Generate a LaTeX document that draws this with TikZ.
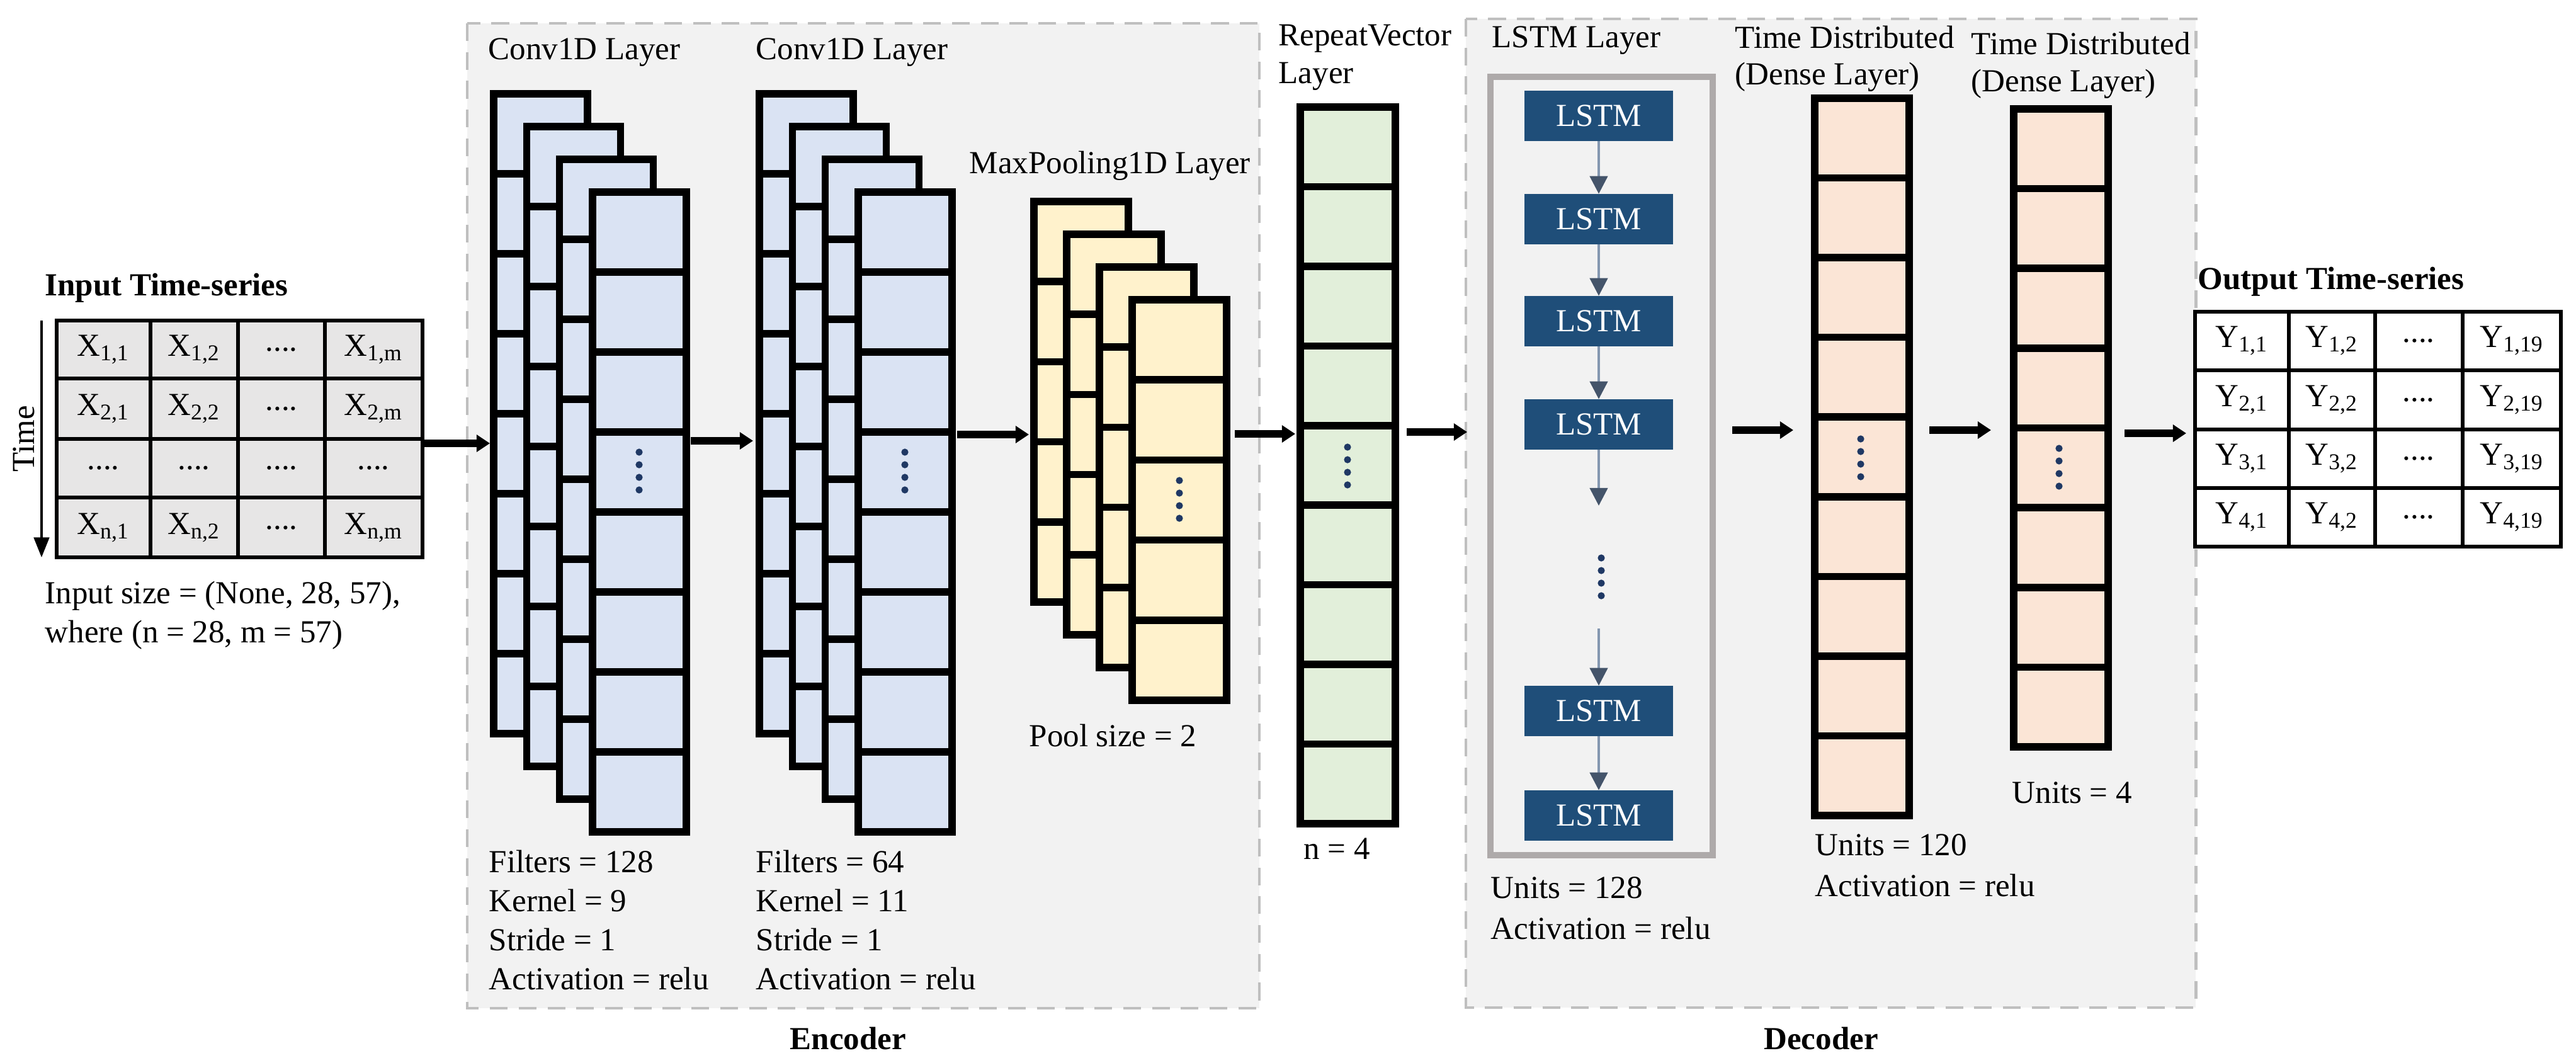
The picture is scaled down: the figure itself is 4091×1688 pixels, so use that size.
\documentclass[tikz,border=0pt]{standalone}
\usepackage{fontspec}
\setmainfont{Liberation Serif}
\usetikzlibrary{arrows.meta}
\definecolor{boxbg}{HTML}{F2F2F2}
\definecolor{boxdash}{HTML}{BFBFBF}
\definecolor{convc}{HTML}{DAE3F3}
\definecolor{poolc}{HTML}{FFF2CC}
\definecolor{rvc}{HTML}{E2EFDA}
\definecolor{densec}{HTML}{FBE5D6}
\definecolor{lstmc}{HTML}{1F4E79}
\definecolor{tabc}{HTML}{E7E6E6}
\definecolor{dotc}{HTML}{1F3864}
\definecolor{framec}{HTML}{AEAAAA}
\definecolor{larrow}{HTML}{8497B0}
\definecolor{ltip}{HTML}{44546A}
\newcommand\cellcol[7]{% x y w h n n-1 fill
  \pgfmathsetmacro\cx{#1}\pgfmathsetmacro\cy{#2}%
  \filldraw[fill=#7,line width=3.3pt] (\cx,\cy) rectangle ++(#3,#4);
  \foreach \ci in {1,...,#6}{\draw[line width=3.3pt] (\cx,{\cy+\ci*#4/#5}) -- ++(#3,0);}}
\newcommand\fourdots[2]{\foreach \j in {-30,-10,10,30}{\fill[dotc] (#1,{#2+\j}) circle (1.6pt);}}
\newcommand\dts{....}
\begin{document}
\begin{tikzpicture}[x=0.01cm,y=-0.01cm,
  every node/.style={font=\fontsize{14.5}{17}\selectfont,inner sep=0pt},
  lbl/.style={anchor=west},
  bold/.style={font=\fontsize{14.5}{17}\selectfont\bfseries},
  big/.style={line width=3.6pt,-{Triangle[length=6pt,width=7.5pt]}},
  small/.style={line width=1.2pt,draw=larrow,-{Triangle[length=8pt,width=8pt,fill=ltip,color=ltip]}},
  lstm/.style={fill=lstmc,text=white,minimum width=2.36cm,minimum height=0.79cm},
  region/.style={fill=boxbg,draw=boxdash,line width=1.4pt,dash pattern=on 8pt off 5pt}]
\useasboundingbox (0,0) rectangle (4091,1688);
% regions
\draw[region] (742,37) rectangle (2000,1601);
\draw[region] (2328,30) rectangle (3487,1600);
\node[bold] (enc) at (1347,1649) {Encoder};
\node[bold] (dec) at (2892,1649) {Decoder};
% input table
\node[bold,lbl] (intitle) at (71,457) {Input Time-series};
\filldraw[fill=tabc,line width=1.5pt] (90,509) rectangle (671,885);
\foreach \xx in {239,378,516}{\draw[line width=1.5pt] (\xx,509) -- (\xx,885);}
\foreach \yy in {601,697,790}{\draw[line width=1.5pt] (90,\yy) -- (671,\yy);}
\foreach \yy/\va/\vb/\vc/\vd in {555/X\textsubscript{1,1}/X\textsubscript{1,2}/\dts/X\textsubscript{1,m},
  649/X\textsubscript{2,1}/X\textsubscript{2,2}/\dts/X\textsubscript{2,m},
  743/\dts/\dts/\dts/\dts,
  838/X\textsubscript{n,1}/X\textsubscript{n,2}/\dts/X\textsubscript{n,m}}{
  \node at (164,\yy) {\va}; \node at (308,\yy) {\vb}; \node at (447,\yy) {\vc}; \node at (593,\yy) {\vd};}
\coordinate (t0) at (66,509); \coordinate (t1) at (66,885);
\draw[line width=0.9pt,-{Triangle[length=9pt,width=7pt]}] (t0) -- (t1);
\node[rotate=90] (time) at (38,697) {Time};
\node[lbl] (insz1) at (71,946) {Input size = (None, 28, 57),};
\node[lbl] (insz2) at (71,1008) {where (n = 28, m = 57)};
% conv1
\node[lbl] (c1t) at (775,83) {Conv1D Layer};
\foreach \kk in {0,1,2,3}{\cellcol{784+52.3*\kk}{149+52*\kk}{149}{1016}{8}{7}{convc}}
\fourdots{1015}{748}
\foreach \t/\yy in {Filters = 128/1368,Kernel = 9/1430,Stride = 1/1492,Activation = relu/1554}{\node[lbl] at (776,\yy) {\t};}
% conv2
\node[lbl] (c2t) at (1200,83) {Conv1D Layer};
\foreach \kk in {0,1,2,3}{\cellcol{1206+52.3*\kk}{149+52*\kk}{149}{1016}{8}{7}{convc}}
\fourdots{1437}{748}
\foreach \t/\yy in {Filters = 64/1368,Kernel = 11/1430,Stride = 1/1492,Activation = relu/1554}{\node[lbl] at (1200,\yy) {\t};}
% maxpool
\node[lbl] (mpt) at (1539,263) {MaxPooling1D Layer};
\foreach \kk in {0,1,2,3}{\cellcol{1642+52*\kk}{320+52*\kk}{150}{636}{5}{4}{poolc}}
\fourdots{1873}{793}
\node[lbl] (mps) at (1634,1168) {Pool size = 2};
% repeat vector
\node[lbl] (rv1) at (2030,61) {RepeatVector};
\node[lbl] (rv2) at (2030,121) {Layer};
\cellcol{2065}{170}{151}{1138}{9}{8}{rvc}
\fourdots{2140}{740}
\node[lbl] (rvn) at (2070,1348) {n = 4};
% LSTM
\node[lbl] (lt) at (2369,64) {LSTM Layer};
\draw[framec,line width=2.6pt] (2367,122) rectangle (2720,1358);
\node[lstm] (l1) at (2539,184) {LSTM};
\node[lstm] (l2) at (2539,348) {LSTM};
\node[lstm] (l3) at (2539,510) {LSTM};
\node[lstm] (l4) at (2539,674) {LSTM};
\node[lstm] (l5) at (2539,1129) {LSTM};
\node[lstm] (l6) at (2539,1295) {LSTM};
\coordinate (ld1) at (2539,803); \coordinate (ld2) at (2539,998);
\draw[small] (l1) -- (l2); \draw[small] (l2) -- (l3); \draw[small] (l3) -- (l4);
\draw[small] (l4) -- (ld1); \draw[small] (ld2) -- (l5); \draw[small] (l5) -- (l6);
\fourdots{2543}{916}
\node[lbl] (lu) at (2367,1410) {Units = 128};
\node[lbl] (la) at (2367,1474) {Activation = relu};
% dense 1
\node[lbl] (d1a) at (2755,59) {Time Distributed};
\node[lbl] (d1b) at (2755,122) {(Dense Layer)};
\cellcol{2882}{156}{150}{1139}{9}{8}{densec}
\fourdots{2955}{727}
\node[lbl] (d1u) at (2882,1342) {Units = 120};
\node[lbl] (d1c) at (2882,1406) {Activation = relu};
% dense 2
\node[lbl] (d2a) at (3130,69) {Time Distributed};
\node[lbl] (d2b) at (3130,133) {(Dense Layer)};
\cellcol{3198}{173}{150}{1013}{8}{7}{densec}
\fourdots{3270}{742}
\node[lbl] (d2u) at (3195,1259) {Units = 4};
% output table
\node[bold,lbl] (outtitle) at (3490,447) {Output Time-series};
\filldraw[fill=white,line width=1.5pt] (3486,495) rectangle (4067,868);
\foreach \xx in {3635,3772,3911}{\draw[line width=1.5pt] (\xx,495) -- (\xx,868);}
\foreach \yy in {588,682,775}{\draw[line width=1.8pt] (3486,\yy) -- (4067,\yy);}
\foreach \r/\yy in {1/541,2/635,3/728,4/821}{
  \node at (3560,\yy) {Y\textsubscript{\r,1}}; \node at (3703,\yy) {Y\textsubscript{\r,2}};
  \node at (3841,\yy) {\dts}; \node at (3989,\yy) {Y\textsubscript{\r,19}};}
% main arrows
\coordinate (a1s) at (672,704); \coordinate (a1e) at (778,704);
\coordinate (a2s) at (1097,700); \coordinate (a2e) at (1196,700);
\coordinate (a3s) at (1520,690); \coordinate (a3e) at (1634,690);
\coordinate (a4s) at (1961,689); \coordinate (a4e) at (2057,689);
\coordinate (a5s) at (2234,686); \coordinate (a5e) at (2330,686);
\coordinate (a6s) at (2751,683); \coordinate (a6e) at (2848,683);
\coordinate (a7s) at (3064,683); \coordinate (a7e) at (3162,683);
\coordinate (a8s) at (3374,688); \coordinate (a8e) at (3472,688);
\foreach \i in {1,...,8}{\draw[big] (a\i s) -- (a\i e);}
\end{tikzpicture}
\end{document}
